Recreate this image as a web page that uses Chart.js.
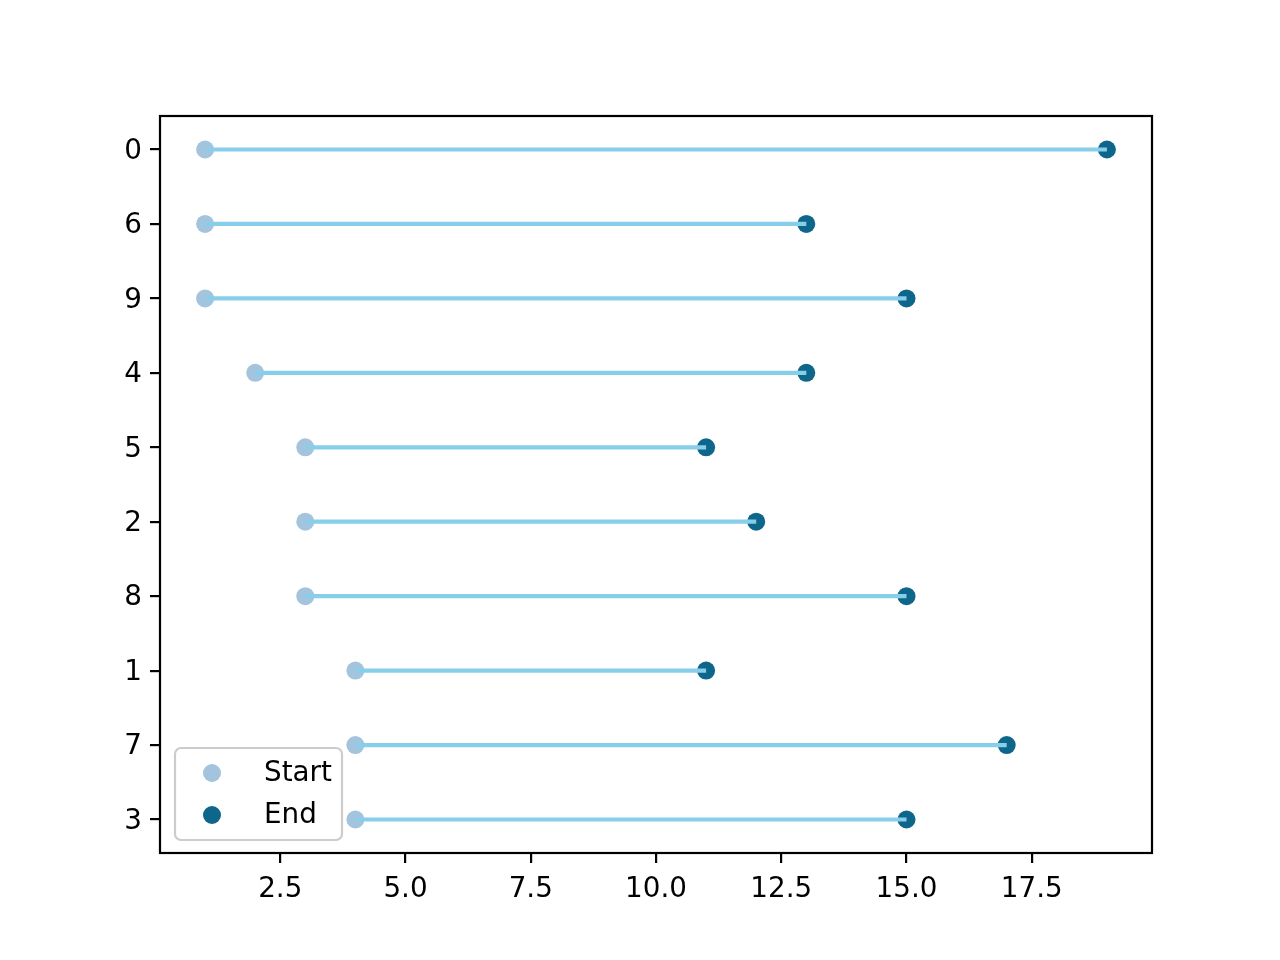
<!DOCTYPE html>
<html>
<head>
<meta charset="utf-8">
<script src="https://cdn.jsdelivr.net/npm/chart.js@4/dist/chart.umd.min.js"></script>
<style>
  html, body { margin: 0; padding: 0; background: #fff; }
  canvas { display: block; }
</style>
</head>
<body>
<canvas id="chart-dumbbell" width="1280" height="960"></canvas>
<script>
/* Data */

var categories = [ "0", "6", "9", "4", "5", "2", "8", "1", "7", "3" ];
var startValues = [ 1, 1, 1, 2, 3, 3, 3, 4, 4, 4 ];
var endValues = [ 19, 13, 15, 13, 11, 12, 15, 11, 17, 15 ];
var xTicks = [ 2.5, 5.0, 7.5, 10.0, 12.5, 15.0, 17.5 ];

var FONT = "'DejaVu Sans', sans-serif";

/* Datasets */

var datasets = [];

// connecting lines first so they sit on top of the dots
categories.forEach(function( cat, i ) {
	datasets.push({
		label: "_line" + cat,
		data: [ { x: startValues[i], y: i }, { x: endValues[i], y: i } ],
		showLine: true,
		borderColor: '#87ceeb',
		borderWidth: 4.2,
		borderCapStyle: 'butt',
		pointRadius: 0,
		pointHoverRadius: 0
	});
});

datasets.push({
	label: "Start",
	data: startValues.map(function( v, i ) { return { x: v, y: i }; }),
	backgroundColor: '#a3c4dc',
	borderWidth: 0,
	pointRadius: 9,
	pointHoverRadius: 9
});

datasets.push({
	label: "End",
	data: endValues.map(function( v, i ) { return { x: v, y: i }; }),
	backgroundColor: '#0e668b',
	borderWidth: 0,
	pointRadius: 9,
	pointHoverRadius: 9
});

/* Frame + legend */

var framePlugin = {
	id: 'frame',
	afterDraw: function( chart ) {
		var ctx = chart.ctx, a = chart.chartArea;
		ctx.save();
		ctx.strokeStyle = '#000';
		ctx.lineWidth = 2.2;
		ctx.strokeRect( a.left, a.top, a.right - a.left, a.bottom - a.top );

		// legend box, lower left
		var bx = 175, by = 748, bw = 167, bh = 92, r = 6;
		ctx.beginPath();
		ctx.moveTo( bx + r, by );
		ctx.arcTo( bx + bw, by, bx + bw, by + bh, r );
		ctx.arcTo( bx + bw, by + bh, bx, by + bh, r );
		ctx.arcTo( bx, by + bh, bx, by, r );
		ctx.arcTo( bx, by, bx + bw, by, r );
		ctx.closePath();
		ctx.fillStyle = 'rgba(255,255,255,0.8)';
		ctx.fill();
		ctx.strokeStyle = '#cccccc';
		ctx.lineWidth = 2.2;
		ctx.stroke();

		var items = chart.data.datasets.filter(function( d ) { return d.label.charAt(0) !== '_'; });
		ctx.font = "27.8px " + FONT;
		ctx.textBaseline = 'middle';
		ctx.textAlign = 'left';
		items.forEach(function( d, k ) {
			var cy = by + 25 + k * 42;
			ctx.beginPath();
			ctx.arc( bx + 37, cy, 9, 0, Math.PI * 2 );
			ctx.fillStyle = d.backgroundColor;
			ctx.fill();
			ctx.fillStyle = '#000';
			ctx.fillText( d.label, bx + 89, cy + 1 );
		});
		ctx.restore();
	}
};

/* Chart */

var ctxdumbbell = document.getElementById("chart-dumbbell").getContext('2d');
var myChart = new Chart(ctxdumbbell, {
	type: 'scatter',
	data: { datasets: datasets },
	options: {
		responsive: false,
		animation: false,
		devicePixelRatio: 1,
		layout: { padding: { left: 0, top: 116, right: 128, bottom: 0 } },
		plugins: {
			legend: { display: false },
			tooltip: { enabled: false }
		},
		scales: {
			x: {
				type: 'linear',
				min: 0.1,
				max: 19.9,
				afterBuildTicks: function( scale ) {
					scale.ticks = xTicks.map(function( v ) { return { value: v }; });
				},
				afterFit: function( scale ) { scale.height = 107; },
				border: { display: false },
				grid: { drawOnChartArea: false, drawTicks: true, tickLength: 10, color: '#000', lineWidth: 2.2 },
				ticks: {
					color: '#000',
					padding: 10,
					maxRotation: 0,
					font: { family: FONT, size: 27.8 },
					callback: function( v ) { return Number(v).toFixed(1); }
				}
			},
			y: {
				type: 'linear',
				reverse: true,
				min: -0.45,
				max: 9.45,
				afterBuildTicks: function( scale ) {
					scale.ticks = categories.map(function( c, i ) { return { value: i }; });
				},
				afterFit: function( scale ) { scale.width = 160; },
				border: { display: false },
				grid: { drawOnChartArea: false, drawTicks: true, tickLength: 10, color: '#000', lineWidth: 2.2 },
				ticks: {
					color: '#000',
					padding: 8,
					labelOffset: 2,
					font: { family: FONT, size: 27.8 },
					callback: function( v ) { return categories[v]; }
				}
			}
		}
	},
	plugins: [ framePlugin ]
});
</script>
</body>
</html>
